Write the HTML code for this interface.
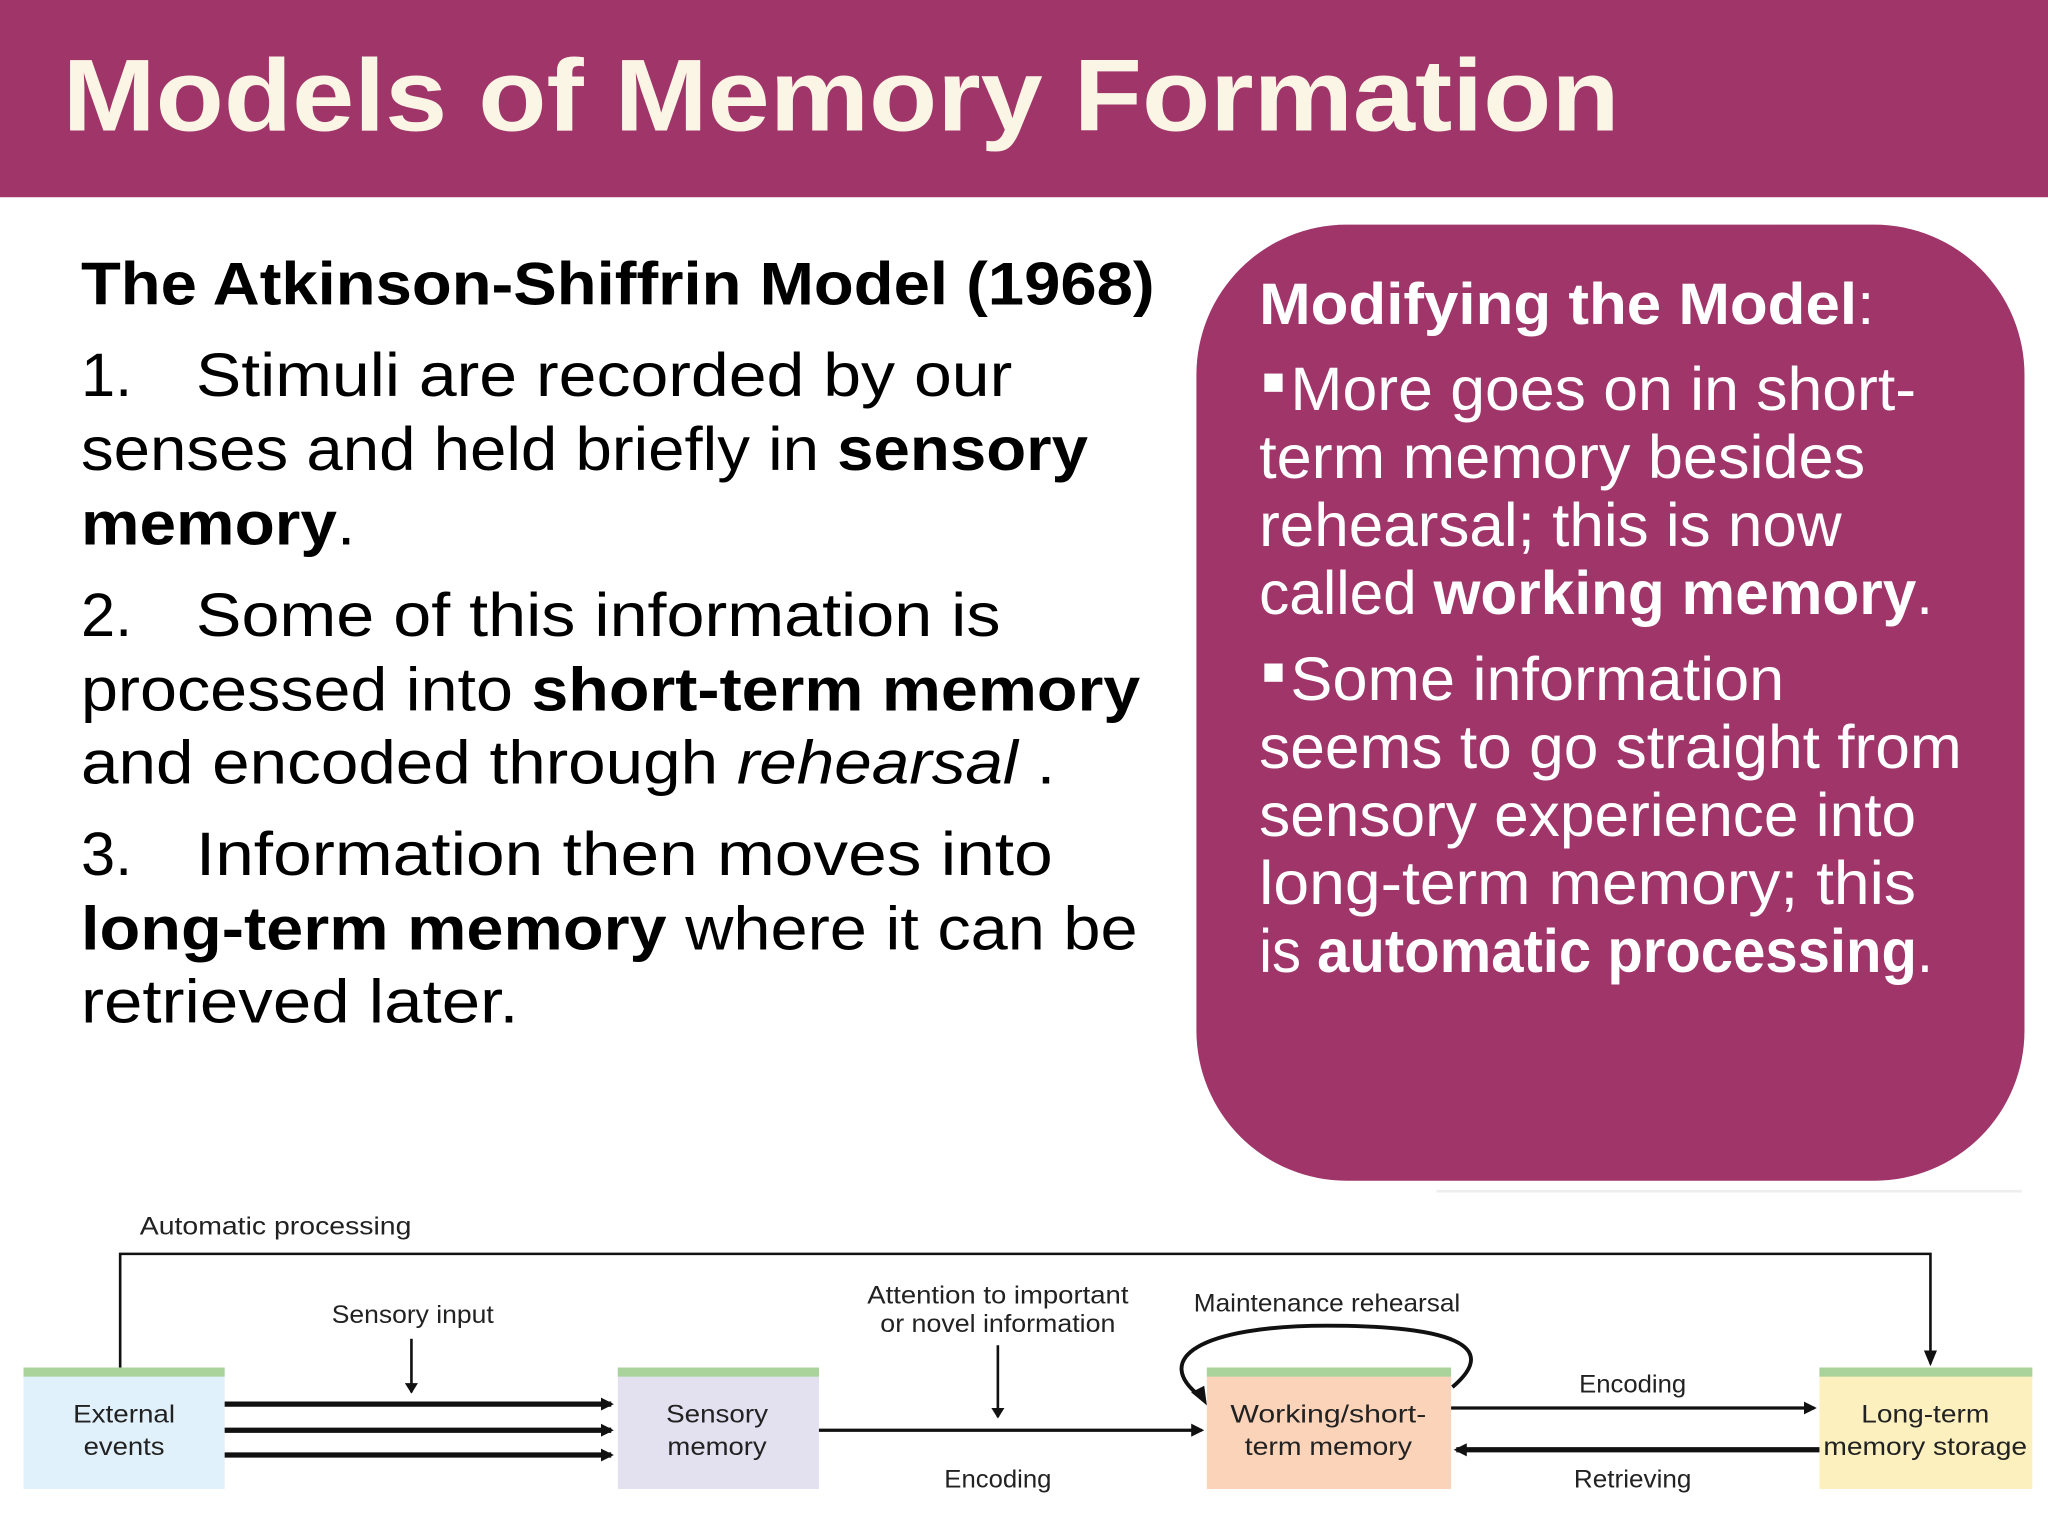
<!DOCTYPE html>
<html><head><meta charset="utf-8"><style>html,body{margin:0;padding:0;background:#fff}svg{display:block}</style></head>
<body>
<svg width="2048" height="1536" viewBox="0 0 1568 1176" xmlns="http://www.w3.org/2000/svg" font-family="Liberation Sans, sans-serif">
<defs>
<marker id="ah" markerWidth="10" markerHeight="10" refX="8" refY="5" orient="auto" markerUnits="userSpaceOnUse"><path d="M0,0 L10,5 L0,10 Z" fill="#111"/></marker>
<marker id="ahs" markerWidth="8" markerHeight="10" refX="7" refY="5" orient="auto" markerUnits="userSpaceOnUse"><path d="M0,0 L8,5 L0,10 Z" fill="#111"/></marker>
</defs>
<rect x="0" y="0" width="1568" height="1176" fill="#fff"/>
<rect x="0" y="0" width="1568" height="151" fill="#A0356A"/>
<text x="48" y="100" font-size="78" font-weight="bold" fill="#FAF5E4" textLength="1192" lengthAdjust="spacingAndGlyphs">Models of Memory Formation</text>

<g fill="#000" font-size="47">
<text x="62" y="233" font-weight="bold" font-size="46" textLength="822" lengthAdjust="spacingAndGlyphs">The Atkinson-Shiffrin Model (1968)</text>
<text x="62" y="303">1.</text><text x="150" y="303" textLength="625" lengthAdjust="spacingAndGlyphs">Stimuli are recorded by our</text>
<text x="62" y="360" textLength="771" lengthAdjust="spacingAndGlyphs">senses and held briefly in <tspan font-weight="bold">sensory</tspan></text>
<text x="62" y="417" textLength="210" lengthAdjust="spacingAndGlyphs"><tspan font-weight="bold">memory</tspan>.</text>
<text x="62" y="487">2.</text><text x="150" y="487" textLength="616" lengthAdjust="spacingAndGlyphs">Some of this information is</text>
<text x="62" y="544" textLength="811" lengthAdjust="spacingAndGlyphs">processed into <tspan font-weight="bold">short-term memory</tspan></text>
<text x="62" y="600" textLength="746" lengthAdjust="spacingAndGlyphs">and encoded through <tspan font-style="italic">rehearsal</tspan> .</text>
<text x="62" y="670">3.</text><text x="150" y="670" textLength="656" lengthAdjust="spacingAndGlyphs">Information then moves into</text>
<text x="62" y="727" textLength="809" lengthAdjust="spacingAndGlyphs"><tspan font-weight="bold">long-term memory</tspan> where it can be</text>
<text x="62" y="783" textLength="335" lengthAdjust="spacingAndGlyphs">retrieved later.</text>
</g>

<rect x="916" y="172" width="634" height="732" rx="115" ry="115" fill="#A0356A"/>
<g fill="#fff" font-size="47">
<text x="964" y="248" font-size="45" textLength="471" lengthAdjust="spacingAndGlyphs"><tspan font-weight="bold">Modifying the Model</tspan>:</text>
<rect x="968" y="286" width="14" height="14"/>
<text x="988" y="314" textLength="479" lengthAdjust="spacingAndGlyphs">More goes on in short-</text>
<text x="964" y="366" textLength="464" lengthAdjust="spacingAndGlyphs">term memory besides</text>
<text x="964" y="418" textLength="446" lengthAdjust="spacingAndGlyphs">rehearsal; this is now</text>
<text x="964" y="470" textLength="516" lengthAdjust="spacingAndGlyphs">called <tspan font-weight="bold">working memory</tspan>.</text>
<rect x="968" y="508" width="14" height="14"/>
<text x="988" y="536" textLength="378" lengthAdjust="spacingAndGlyphs">Some information</text>
<text x="964" y="588" textLength="538" lengthAdjust="spacingAndGlyphs">seems to go straight from</text>
<text x="964" y="640" textLength="503" lengthAdjust="spacingAndGlyphs">sensory experience into</text>
<text x="964" y="692" textLength="503" lengthAdjust="spacingAndGlyphs">long-term memory; this</text>
<text x="964" y="744" textLength="516" lengthAdjust="spacingAndGlyphs">is <tspan font-weight="bold">automatic processing</tspan>.</text>
</g>
<line x1="1100" y1="912" x2="1548" y2="912" stroke="#eee" stroke-width="2"/>

<!-- diagram -->
<g>
<rect x="18" y="1047" width="154" height="93" fill="#E0F1FB"/><rect x="18" y="1047" width="154" height="7" fill="#A9D39A"/>
<rect x="473" y="1047" width="154" height="93" fill="#E3E1F0"/><rect x="473" y="1047" width="154" height="7" fill="#A9D39A"/>
<rect x="924" y="1047" width="187" height="93" fill="#FBD3B9"/><rect x="924" y="1047" width="187" height="7" fill="#A9D39A"/>
<rect x="1393" y="1047" width="163" height="93" fill="#FCF0BE"/><rect x="1393" y="1047" width="163" height="7" fill="#A9D39A"/>

<polyline points="92,1047 92,960 1478,960 1478,1044" fill="none" stroke="#111" stroke-width="2"/>
<path d="M1473,1034 L1478,1046 L1483,1034 Z" fill="#111"/>

<line x1="172" y1="1075" x2="468" y2="1075" stroke="#111" stroke-width="4" marker-end="url(#ah)"/>
<line x1="172" y1="1095" x2="468" y2="1095" stroke="#111" stroke-width="4" marker-end="url(#ah)"/>
<line x1="172" y1="1114" x2="468" y2="1114" stroke="#111" stroke-width="4" marker-end="url(#ah)"/>
<line x1="315" y1="1025" x2="315" y2="1066" stroke="#111" stroke-width="2" marker-end="url(#ahs)"/>
<line x1="627" y1="1095" x2="920" y2="1095" stroke="#111" stroke-width="2.5" marker-end="url(#ah)"/>
<line x1="764" y1="1030" x2="764" y2="1085" stroke="#111" stroke-width="2" marker-end="url(#ahs)"/>
<line x1="1111" y1="1078" x2="1389" y2="1078" stroke="#111" stroke-width="2.5" marker-end="url(#ah)"/>
<line x1="1393" y1="1110" x2="1115" y2="1110" stroke="#111" stroke-width="4" marker-end="url(#ah)"/>
<path d="M1112,1062 C1150,1030 1110,1015 1016,1015 C920,1015 880,1040 920,1070" fill="none" stroke="#111" stroke-width="3"/>
<path d="M912,1066 L924,1076 L922,1061 Z" fill="#111"/>

<g font-size="19" fill="#222" text-anchor="middle">
<text x="211" y="945" textLength="208" lengthAdjust="spacingAndGlyphs">Automatic processing</text>
<text x="316" y="1013" textLength="124" lengthAdjust="spacingAndGlyphs">Sensory input</text>
<text x="764" y="998" textLength="200" lengthAdjust="spacingAndGlyphs">Attention to important</text>
<text x="764" y="1020" textLength="180" lengthAdjust="spacingAndGlyphs">or novel information</text>
<text x="1016" y="1004" textLength="204" lengthAdjust="spacingAndGlyphs">Maintenance rehearsal</text>
<text x="764" y="1139" textLength="82" lengthAdjust="spacingAndGlyphs">Encoding</text>
<text x="1250" y="1066" textLength="82" lengthAdjust="spacingAndGlyphs">Encoding</text>
<text x="1250" y="1139" textLength="90" lengthAdjust="spacingAndGlyphs">Retrieving</text>
<text x="95" y="1089" textLength="78" lengthAdjust="spacingAndGlyphs">External</text>
<text x="95" y="1114" textLength="62" lengthAdjust="spacingAndGlyphs">events</text>
<text x="549" y="1089" textLength="78" lengthAdjust="spacingAndGlyphs">Sensory</text>
<text x="549" y="1114" textLength="76" lengthAdjust="spacingAndGlyphs">memory</text>
<text x="1017" y="1089" textLength="150" lengthAdjust="spacingAndGlyphs">Working/short-</text>
<text x="1017" y="1114" textLength="128" lengthAdjust="spacingAndGlyphs">term memory</text>
<text x="1474" y="1089" textLength="98" lengthAdjust="spacingAndGlyphs">Long-term</text>
<text x="1474" y="1114" textLength="156" lengthAdjust="spacingAndGlyphs">memory storage</text>
</g>
</g>
</svg>
</body></html>
